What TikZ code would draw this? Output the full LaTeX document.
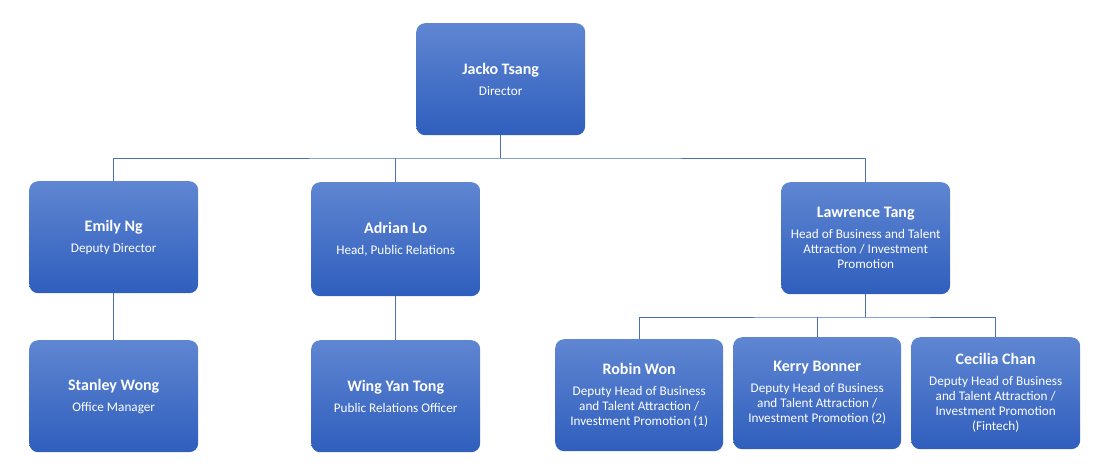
\documentclass[tikz,border=0pt]{standalone}
\usepackage{fontspec}
\setmainfont{Carlito}
\definecolor{boxtop}{HTML}{5F86D2}
\definecolor{boxbot}{HTML}{2F5EBD}
\definecolor{linec}{HTML}{4A6FB5}
\tikzset{
  card/.style={rounded corners=9pt, top color=boxtop, bottom color=boxbot, draw=none,
    text=white, align=center, inner sep=2pt, anchor=north west,
    font=\fontsize{13.2}{15}\selectfont},
  conn/.style={draw=linec, line width=0.9pt}
}
\newcommand{\cardname}[1]{{\bfseries\fontsize{16}{18}\selectfont #1}\\[6pt]}
\begin{document}
\begin{tikzpicture}[x=1pt,y=-1pt]
\useasboundingbox (0,0) rectangle (1099,469);
\node[card, minimum width=169pt, minimum height=112pt] (jt) at (416,23) {\cardname{Jacko Tsang}Director};
\node[card, minimum width=169pt, minimum height=112pt] (en) at (29,181) {\cardname{Emily Ng}Deputy Director};
\node[card, minimum width=169pt, minimum height=114pt] (al) at (311,182) {\cardname{Adrian Lo}Head, Public Relations};
\node[card, minimum width=169pt, minimum height=112pt] (lt) at (781,182) {\cardname{Lawrence Tang}Head of Business and Talent\\Attraction / Investment\\Promotion};
\node[card, minimum width=169pt, minimum height=112pt] (sw) at (29,340) {\cardname{Stanley Wong}Office Manager};
\node[card, minimum width=169pt, minimum height=112pt] (wy) at (311,340) {\cardname{Wing Yan Tong}Public Relations Officer};
\node[card, minimum width=168pt, minimum height=112pt] (rw) at (555,339) {\cardname{Robin Won}Deputy Head of Business\\and Talent Attraction /\\Investment Promotion (1)};
\node[card, minimum width=168pt, minimum height=112pt] (kb) at (733,337) {\cardname{Kerry Bonner}Deputy Head of Business\\and Talent Attraction /\\Investment Promotion (2)};
\node[card, minimum width=169pt, minimum height=112pt] (cc) at (911,337) {\cardname{Cecilia Chan}Deputy Head of Business\\and Talent Attraction /\\Investment Promotion\\(Fintech)};
\coordinate (j1) at (jt.south |- 0,158);
\coordinate (l1) at (lt.south |- 0,317);
\draw[conn] (jt.south) -- (j1);
\draw[conn] (en.north) |- (j1) -| (lt.north);
\draw[conn] (al.north) -- (al.north |- j1);
\draw[conn] (en.south) -- (sw.north);
\draw[conn] (al.south) -- (wy.north);
\draw[conn] (lt.south) -- (l1);
\draw[conn] (rw.north) |- (l1) -| (cc.north);
\draw[conn] (kb.north) -- (kb.north |- l1);
\end{tikzpicture}
\end{document}
